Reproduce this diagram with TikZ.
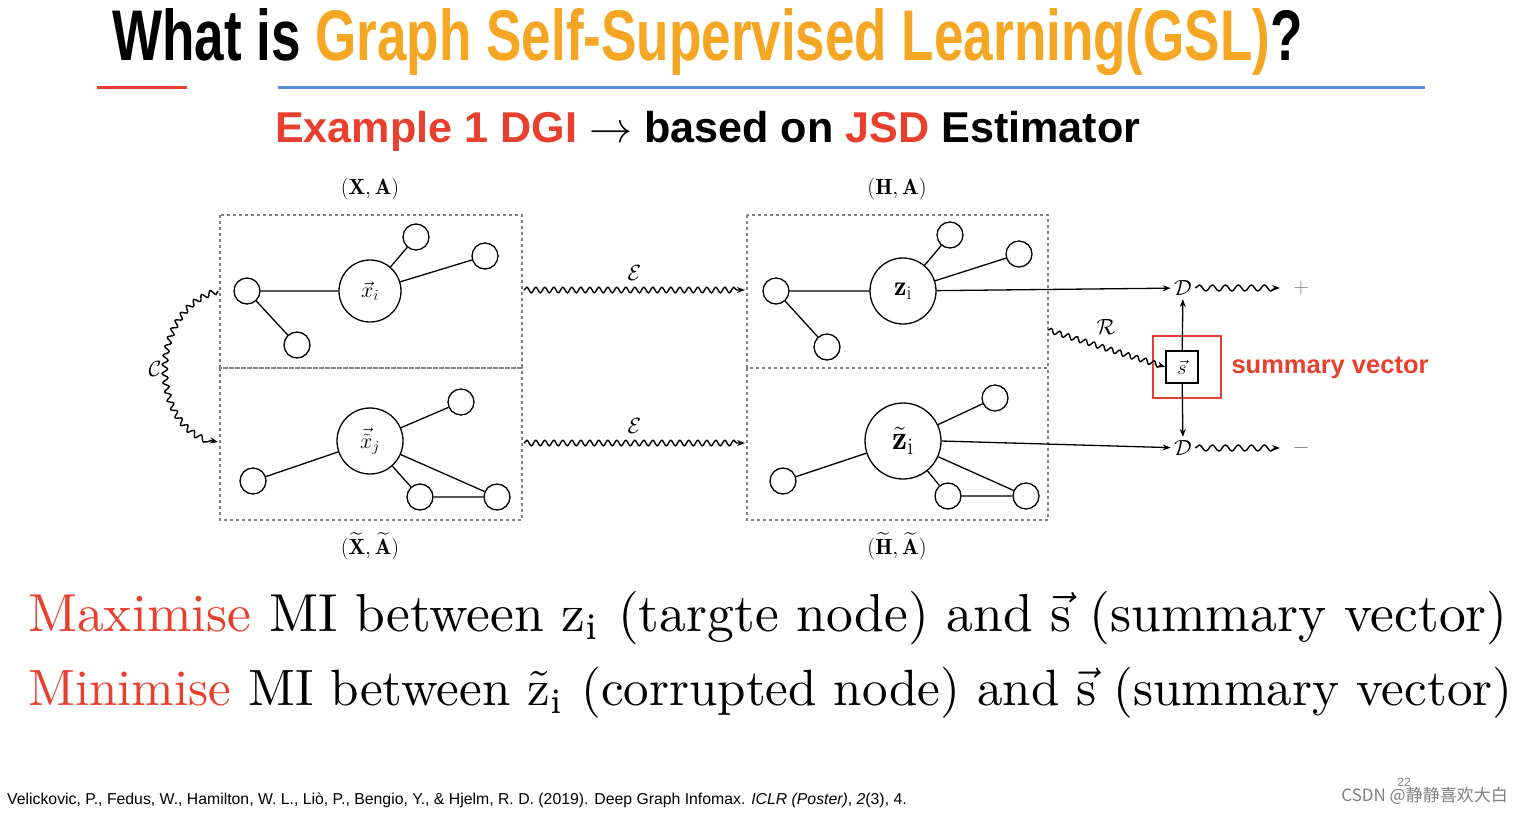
\documentclass[tikz,border=0pt]{standalone}
\usepackage{fix-cm}
\usepackage{fontspec}
\usepackage{amsmath,amssymb,graphicx}
\newfontfamily\sansf{Liberation Sans}
\newfontfamily\cjk{Noto Sans CJK SC}
\usetikzlibrary{decorations.pathmorphing,arrows.meta}
\definecolor{org}{HTML}{F5A623}
\definecolor{rd}{HTML}{E8402F}
\definecolor{bl}{HTML}{5B8FD9}
\begin{document}
\begin{tikzpicture}[x=1pt,y=-1pt,
  sm/.style={circle,draw,line width=1.3pt,minimum size=26pt,inner sep=0pt},
  big/.style={circle,draw,line width=1.3pt,minimum size=62pt,inner sep=0pt,font=\fontsize{22}{24}\selectfont},
  ed/.style={line width=1.3pt},
  panel/.style={draw=gray,dashed,line width=1.1pt},
  wav/.style={decorate,decoration={snake,segment length=9pt,amplitude=2.8pt,post length=4pt},line width=1.4pt,-{Stealth[length=8pt]}},
  arr/.style={line width=1.3pt,-{Stealth[length=8pt]}},
  lab/.style={font=\fontsize{22}{24}\selectfont}]
\useasboundingbox (0,0) rectangle (1522,815);
\fill[white] (0,0) rectangle (1522,815);
% title
\node[anchor=west,inner sep=0] (title) at (112,42) {\resizebox{1190pt}{52pt}{\sansf\bfseries What is \textcolor{org}{Graph Self-Supervised Learning(GSL)}?}};
\draw[rd,line width=3pt] (97,87) -- (187,87);
\draw[bl,line width=3pt] (278,87) -- (1425,87);
\node[anchor=west,inner sep=0] (sub) at (275,131) {\resizebox{865pt}{!}{\sansf\bfseries\textcolor{rd}{Example 1 DGI} $\rightarrow$ based on \textcolor{rd}{JSD} Estimator}};
% panels
\draw[panel] (220,215) rectangle (522,368);
\draw[panel] (220,368) rectangle (522,520);
\draw[panel] (747,215) rectangle (1048,368);
\draw[panel] (747,368) rectangle (1048,520);
\node[lab] (la) at (370,189) {$(\mathbf{X},\mathbf{A})$};
\node[lab] (lb) at (370,546) {$(\widetilde{\mathbf{X}},\widetilde{\mathbf{A}})$};
\node[lab] (lc) at (897,189) {$(\mathbf{H},\mathbf{A})$};
\node[lab] (ld) at (897,546) {$(\widetilde{\mathbf{H}},\widetilde{\mathbf{A}})$};
% left top
\node[big] (xi) at (370,291) {$\vec{x}_i$};
\node[sm] (a1) at (247,291) {}; \node[sm] (a2) at (297,345) {};
\node[sm] (a3) at (416,237) {}; \node[sm] (a4) at (485,256) {};
\draw[ed] (xi)--(a1) (a1)--(a2) (xi)--(a3) (xi)--(a4);
% left bottom
\node[big,minimum size=66pt] (xj) at (370,441) {$\vec{\tilde{x}}_j$};
\node[sm] (b1) at (253,481) {}; \node[sm] (b2) at (420,497) {};
\node[sm] (b3) at (497,497) {}; \node[sm] (b4) at (461,402) {};
\draw[ed] (xj)--(b1) (xj)--(b2) (xj)--(b3) (b2)--(b3) (xj)--(b4);
% right top
\node[big,minimum size=66pt,font=\fontsize{28}{30}\selectfont] (zi) at (903,291) {$\mathbf{z}_\mathrm{i}$};
\node[sm] (c1) at (776,291) {}; \node[sm] (c2) at (827,347) {};
\node[sm] (c3) at (950,235) {}; \node[sm] (c4) at (1019,254) {};
\draw[ed] (zi)--(c1) (c1)--(c2) (zi)--(c3) (zi)--(c4);
% right bottom
\node[big,minimum size=76pt,font=\fontsize{34}{36}\selectfont] (zt) at (903,441) {$\tilde{\mathbf{z}}_\mathrm{i}$};
\node[sm] (d1) at (783,481) {}; \node[sm] (d2) at (948,496) {};
\node[sm] (d3) at (1026,496) {}; \node[sm] (d4) at (995,398) {};
\draw[ed] (zt)--(d1) (zt)--(d2) (zt)--(d3) (d2)--(d3) (zt)--(d4);
% encoders
\coordinate (e1s) at (524,290); \coordinate (e1t) at (745,290);
\coordinate (e2s) at (524,443); \coordinate (e2t) at (745,443);
\draw[wav] (e1s) -- node[above=5pt,lab] {$\mathcal{E}$} (e1t);
\draw[wav] (e2s) -- node[above=5pt,lab] {$\mathcal{E}$} (e2t);
% corruption
\coordinate (cs) at (218,291); \coordinate (ct) at (218,442);
\draw[wav] (cs) .. controls (150,310) and (150,430) .. (ct);
\node[lab] (cl) at (155,369) {$\mathcal{C}$};
% discriminators
\node[lab] (D1) at (1183,288) {$\mathcal{D}$};
\node[lab] (D2) at (1183,448) {$\mathcal{D}$};
\draw[arr] (zi) -- (D1);
\draw[arr] (zt.east) -- (D2);
\coordinate (p1) at (1280,288); \coordinate (p2) at (1280,448);
\draw[wav,decoration={snake,segment length=13pt,amplitude=3pt,post length=4pt}] (D1.east) -- (p1);
\draw[wav,decoration={snake,segment length=13pt,amplitude=3pt,post length=4pt}] (D2.east) -- (p2);
\node[lab,gray] (plus) at (1301,288) {$+$};
\node[lab,gray] (minus) at (1301,448) {$-$};
% summary
\node[draw,line width=1.3pt,minimum size=32pt,inner sep=0,font=\fontsize{20}{22}\selectfont] (s) at (1182,367) {$\vec{s}$};
\node[draw=rd,line width=2pt,minimum width=68pt,minimum height=62pt] (sbox) at (1187,367) {};
\node[anchor=west,rd,font=\sansf\bfseries\fontsize{25.5}{27}\selectfont] (sv) at (1228,368) {summary vector};
\draw[arr] (s) -- (D1);
\draw[arr] (s) -- (D2);
\coordinate (rs) at (1048,330);
\draw[wav,decoration={snake,segment length=9pt,amplitude=2.5pt,post length=3pt}] (rs) -- (s.west);
\node[lab] (rl) at (1106,327) {$\mathcal{R}$};
% bottom text
\node[anchor=west,inner sep=0] (m1) at (28,618) {\resizebox{1479pt}{!}{\textcolor{rd}{Maximise} MI between $\mathrm{z}_\mathrm{i}$ (targte node) and $\vec{\mathrm{s}}$ (summary vector)}};
\node[anchor=west,inner sep=0] (m2) at (28,693) {\resizebox{1484pt}{!}{\textcolor{rd}{Minimise} MI between $\tilde{\mathrm{z}}_\mathrm{i}$ (corrupted node) and $\vec{\mathrm{s}}$ (summary vector)}};
% citation
\node[anchor=west,inner sep=0,font=\sansf\fontsize{15.8}{17}\selectfont] (cit) at (7,800) {Velickovic, P., Fedus, W., Hamilton, W. L., Liò, P., Bengio, Y., \& Hjelm, R. D. (2019). Deep Graph Infomax. \textit{ICLR (Poster)}, \textit{2}(3), 4.};
\node[gray,font=\sansf\fontsize{12}{14}\selectfont] (pg) at (1404,782) {22};
\node[anchor=east,inner sep=0,gray,font=\cjk\fontsize{17}{19}\selectfont] (wm) at (1508,796) {CSDN @静静喜欢大白};
\end{tikzpicture}
\end{document}
